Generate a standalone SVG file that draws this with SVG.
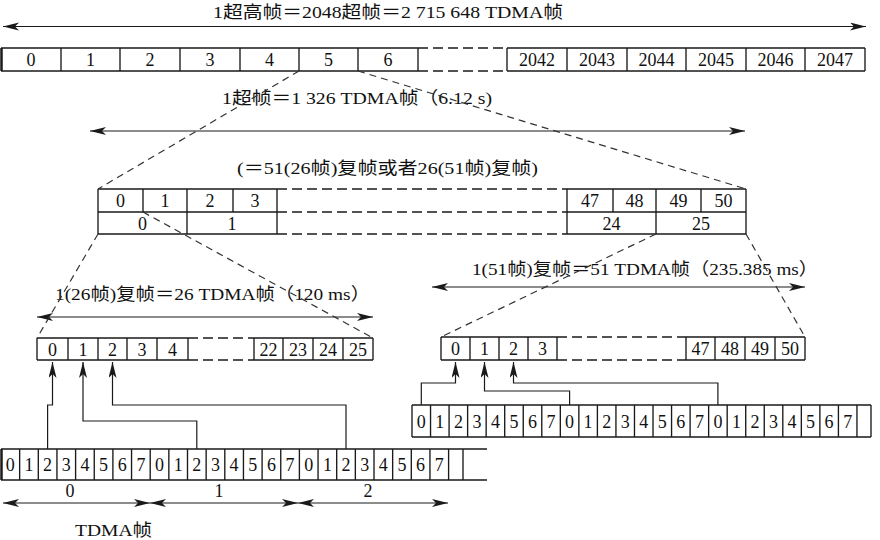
<svg xmlns="http://www.w3.org/2000/svg" width="880" height="540" viewBox="0 0 880 540">
<defs>
<marker id="ah" markerUnits="userSpaceOnUse" markerWidth="17" markerHeight="9" refX="16" refY="4" orient="auto-start-reverse">
<path d="M0,0 L16,4 L0,8 L4,4 z" fill="#1a1a1a"/>
</marker>
</defs>
<style>
.s{fill:none;stroke:#1a1a1a;stroke-width:1.35}
.d{fill:none;stroke:#1a1a1a;stroke-width:1.35;stroke-dasharray:10 5}
.z{fill:none;stroke:#333;stroke-width:1.2;stroke-dasharray:7 5}
.a{fill:none;stroke:#1a1a1a;stroke-width:1.2;marker-end:url(#ah)}
.a2{fill:none;stroke:#1a1a1a;stroke-width:1.2;marker-start:url(#ah);marker-end:url(#ah)}
text{font-family:"Liberation Serif","Noto Sans CJK SC",serif;fill:#111}
.n{font-size:18px;text-anchor:middle}
.l{font-size:17.5px}
</style>
<rect width="880" height="540" fill="#fff"/>

<g id="label-hyperframe">
<text class="l" x="213" y="18" textLength="350" lengthAdjust="spacingAndGlyphs">1超高帧＝2048超帧＝2 715 648 TDMA帧</text>
</g>

<g id="hyperframe-bar">
<path class="s" d="M1,48 H418 M1,71 H418 M507,48 H865 M507,71 H865 M61,48 V71 M120,48 V71 M180,48 V71 M240,48 V71 M299,48 V71 M358,48 V71 M418,48 V71 M507,48 V71 M567,48 V71 M627,48 V71 M686,48 V71 M746,48 V71 M805,48 V71 M865,48 V71"/>
<path d="M1.5,48 V71" stroke="#1a1a1a" stroke-width="2.5"/>
<path class="d" d="M418,48 H507 M418,71 H507"/>
<g class="n">
<text x="31" y="66">0</text><text x="90.5" y="66">1</text><text x="150" y="66">2</text><text x="210" y="66">3</text><text x="269.5" y="66">4</text><text x="328.5" y="66">5</text><text x="388" y="66">6</text>
<text x="537" y="66">2042</text><text x="597" y="66">2043</text><text x="656.5" y="66">2044</text><text x="716" y="66">2045</text><text x="775.5" y="66">2046</text><text x="835" y="66">2047</text>
</g>
</g>

<g id="label-superframe">
<text class="l" x="222" y="104" textLength="270" lengthAdjust="spacingAndGlyphs">1超帧＝1 326 TDMA帧（6.12 s)</text>
<text class="l" x="237" y="174" textLength="301" lengthAdjust="spacingAndGlyphs">(＝51(26帧)复帧或者26(51帧)复帧)</text>
</g>

<g id="superframe-bar">
<path class="s" d="M98,189 H277 M98,212 H277 M98,234 H277 M98,189 V234 M143,189 V212 M187,189 V234 M233,189 V212 M277,189 V234 M567,189 H746 M567,212 H746 M567,234 H746 M567,189 V234 M613,189 V212 M656,189 V234 M701,189 V212 M746,189 V234"/>
<path class="d" d="M277,189 H567 M277,212 H567 M277,234 H567"/>
<g class="n">
<text x="120.5" y="207">0</text><text x="165" y="207">1</text><text x="210" y="207">2</text><text x="255" y="207">3</text>
<text x="142.5" y="230">0</text><text x="232" y="230">1</text>
<text x="590" y="207">47</text><text x="634.5" y="207">48</text><text x="678.5" y="207">49</text><text x="723.5" y="207">50</text>
<text x="611.5" y="230">24</text><text x="701" y="230">25</text>
</g>
</g>

<g id="label-mf26">
<text class="l" x="55" y="300" textLength="315" lengthAdjust="spacingAndGlyphs">1(26帧)复帧＝26 TDMA帧（120 ms）</text>
</g>

<g id="mf26-bar">
<path class="s" d="M37,338 H188 M37,360 H188 M254,338 H373 M254,360 H373 M37,338 V360 M68,338 V360 M98,338 V360 M127,338 V360 M157,338 V360 M188,338 V360 M254,338 V360 M283,338 V360 M313,338 V360 M343,338 V360 M373,338 V360"/>
<path class="d" d="M188,338 H254 M188,360 H254"/>
<g class="n">
<text x="52.5" y="356">0</text><text x="83" y="356">1</text><text x="112.5" y="356">2</text><text x="142" y="356">3</text><text x="172.5" y="356">4</text>
<text x="268.5" y="356">22</text><text x="298" y="356">23</text><text x="328" y="356">24</text><text x="358" y="356">25</text>
</g>
</g>

<g id="label-mf51">
<text class="l" x="472" y="275" textLength="346" lengthAdjust="spacingAndGlyphs">1(51帧)复帧＝51 TDMA帧（235.385 ms）</text>
</g>

<g id="mf51-bar">
<path class="s" d="M441,337 H557 M441,360 H557 M686,337 H805 M686,360 H805 M441,337 V360 M470,337 V360 M499,337 V360 M528,337 V360 M557,337 V360 M686,337 V360 M715,337 V360 M745,337 V360 M775,337 V360 M805,337 V360"/>
<path class="d" d="M557,337 H686 M557,360 H686"/>
<g class="n">
<text x="455.5" y="355">0</text><text x="484.5" y="355">1</text><text x="513.5" y="355">2</text><text x="542.5" y="355">3</text>
<text x="700.5" y="355">47</text><text x="730" y="355">48</text><text x="760" y="355">49</text><text x="790" y="355">50</text>
</g>
</g>

<g id="tdma-bar-left">
<path class="s" d="M1,449 H487 M1,480 H487 M19.65,449 V480 M38.3,449 V480 M56.95,449 V480 M75.6,449 V480 M94.25,449 V480 M112.9,449 V480 M131.55,449 V480 M150.2,449 V480 M168.85,449 V480 M187.5,449 V480 M206.15,449 V480 M224.8,449 V480 M243.45,449 V480 M262.1,449 V480 M280.75,449 V480 M299.4,449 V480 M318.05,449 V480 M336.7,449 V480 M355.35,449 V480 M374,449 V480 M392.65,449 V480 M411.3,449 V480 M429.95,449 V480 M448.6,449 V480 M463,449 V480"/>
<path d="M1.5,449 V480" stroke="#1a1a1a" stroke-width="2.5"/>
<g class="n">
<text x="10.3" y="471">0</text><text x="29" y="471">1</text><text x="47.6" y="471">2</text><text x="66.3" y="471">3</text><text x="84.9" y="471">4</text><text x="103.6" y="471">5</text><text x="122.2" y="471">6</text><text x="140.9" y="471">7</text>
<text x="159.5" y="471">0</text><text x="178.2" y="471">1</text><text x="196.8" y="471">2</text><text x="215.5" y="471">3</text><text x="234.1" y="471">4</text><text x="252.8" y="471">5</text><text x="271.4" y="471">6</text><text x="290.1" y="471">7</text>
<text x="308.7" y="471">0</text><text x="327.4" y="471">1</text><text x="346" y="471">2</text><text x="364.7" y="471">3</text><text x="383.3" y="471">4</text><text x="402" y="471">5</text><text x="420.6" y="471">6</text><text x="439.3" y="471">7</text>
</g>
<g class="n">
<text x="70" y="497">0</text><text x="219" y="497">1</text><text x="368" y="497">2</text>
</g>
</g>

<g id="label-tdma">
<text class="l" x="75" y="536" textLength="77" lengthAdjust="spacingAndGlyphs">TDMA帧</text>
</g>

<g id="tdma-bar-right">
<path class="s" d="M412,405 H871 M412,437 H871 M412,405 V437 M430.54,405 V437 M449.08,405 V437 M467.62,405 V437 M486.16,405 V437 M504.7,405 V437 M523.24,405 V437 M541.78,405 V437 M560.32,405 V437 M578.86,405 V437 M597.4,405 V437 M615.94,405 V437 M634.48,405 V437 M653.02,405 V437 M671.56,405 V437 M690.1,405 V437 M708.64,405 V437 M727.18,405 V437 M745.72,405 V437 M764.26,405 V437 M782.8,405 V437 M801.34,405 V437 M819.88,405 V437 M838.42,405 V437 M856.96,405 V437 M871,405 V437"/>
<g class="n">
<text x="421.3" y="428">0</text><text x="439.8" y="428">1</text><text x="458.4" y="428">2</text><text x="476.9" y="428">3</text><text x="495.4" y="428">4</text><text x="514" y="428">5</text><text x="532.5" y="428">6</text><text x="551" y="428">7</text>
<text x="569.6" y="428">0</text><text x="588.1" y="428">1</text><text x="606.7" y="428">2</text><text x="625.2" y="428">3</text><text x="643.7" y="428">4</text><text x="662.3" y="428">5</text><text x="680.8" y="428">6</text><text x="699.4" y="428">7</text>
<text x="717.9" y="428">0</text><text x="736.4" y="428">1</text><text x="755" y="428">2</text><text x="773.5" y="428">3</text><text x="792.1" y="428">4</text><text x="810.6" y="428">5</text><text x="829.1" y="428">6</text><text x="847.7" y="428">7</text>
</g>
</g>

<g id="connectors">
<path class="a2" d="M3,26.5 H866"/>
<path class="a2" d="M90,131 H745"/>
<path class="a2" d="M37,317 H373"/>
<path class="a2" d="M432,287 H805"/>
<path class="a2" d="M3,503 H150"/>
<path class="a2" d="M150,503 H298"/>
<path class="a2" d="M298,503 H448"/>
<path class="z" d="M299,71 L98,189"/>
<path class="z" d="M358,71 L746,189"/>
<path class="z" d="M98,234 L37,338"/>
<path class="z" d="M143,212 L373,338"/>
<path class="z" d="M656,234 L441,337"/>
<path class="z" d="M746,234 L805,337"/>
<path class="a" d="M47.6,449 V405 H52.5 V362"/>
<path class="a" d="M196.8,449 V421 H83 V362"/>
<path class="a" d="M346,449 V405 H112.5 V362"/>
<path class="a" d="M421.3,405 V383 H455.5 V362"/>
<path class="a" d="M569.6,405 V391 H484.5 V362"/>
<path class="a" d="M717.9,405 V383 H513.5 V362"/>
</g>
</svg>
